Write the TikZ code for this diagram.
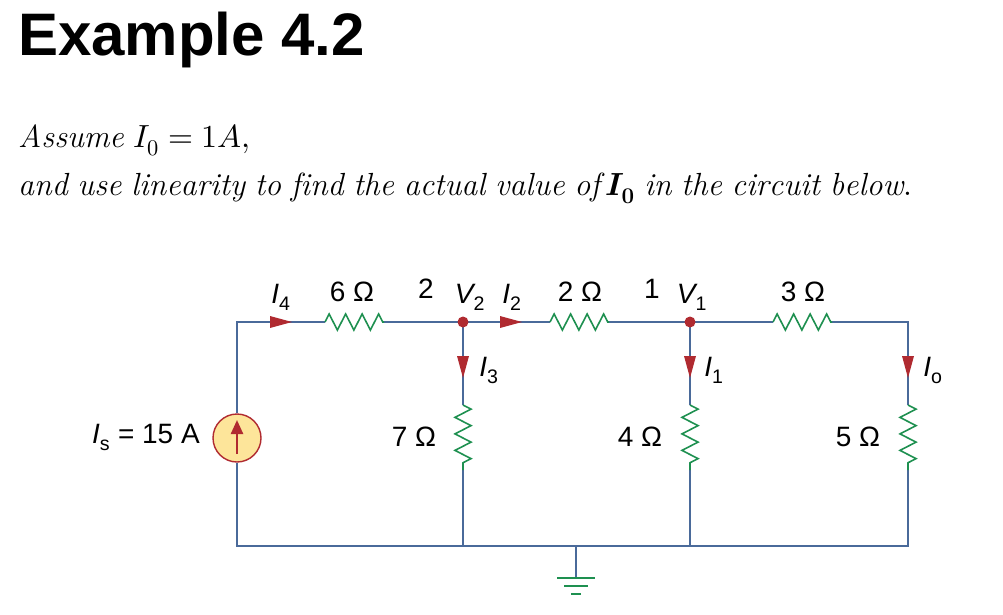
\documentclass[tikz,border=0pt]{standalone}
\usepackage{fontspec}
\usepackage{unicode-math}
\newfontfamily\arial{Liberation Sans}
\usetikzlibrary{decorations.pathmorphing,arrows.meta}
\definecolor{wire}{HTML}{4A6A9A}
\definecolor{res}{HTML}{1E9050}
\definecolor{arr}{HTML}{B02A30}
\definecolor{src}{HTML}{FDE59A}
\begin{document}
\begin{tikzpicture}[x=1pt,y=-1pt,
  wirest/.style={draw=wire,line width=1.6pt},
  resist/.style={draw=res,line width=1.6pt,decorate,decoration={zigzag,segment length=16.5pt,amplitude=8pt}},
  lbl/.style={font=\arial\fontsize{28}{28}\selectfont,inner sep=0pt},
  dot/.style={circle,fill=arr,inner sep=0pt,minimum size=11pt}]
\useasboundingbox (0,0) rectangle (1003,614);
% title and text
\node[anchor=west,inner sep=0pt,font=\arial\bfseries\fontsize{60}{60}\selectfont] (title) at (18,40) {Example 4.2};
\node[anchor=west,inner sep=0pt,font=\fontsize{32}{32}\selectfont] (l1) at (18,140) {$\mathit{Assume}\ I_0 = 1A,$};
\node[anchor=west,inner sep=0pt,font=\fontsize{32}{32}\selectfont] (l2) at (18,188) {$\mathit{and\ use\ linearity\ to\ find\ the\ actual\ value\ of}\,\symbfit{I}_{\mathbf{0}}\ \mathit{in\ the\ circuit\ below.}$};
% coordinates
\coordinate (tl) at (237,322); \coordinate (bl) at (237,546);
\coordinate (tr) at (908,322); \coordinate (br) at (908,546);
\coordinate (n2) at (463,322); \coordinate (n1) at (690,322);
\coordinate (b2) at (463,546); \coordinate (b1) at (690,546);
\coordinate (gnd) at (576,546); \coordinate (g0) at (576,578);
\coordinate (r6a) at (325,322); \coordinate (r6b) at (384,322);
\coordinate (r2a) at (550,322); \coordinate (r2b) at (609,322);
\coordinate (r3a) at (773,322); \coordinate (r3b) at (832,322);
\coordinate (r7a) at (463,405); \coordinate (r7b) at (463,470);
\coordinate (r4a) at (690,405); \coordinate (r4b) at (690,470);
\coordinate (r5a) at (908,405); \coordinate (r5b) at (908,470);
\node[circle,draw=arr,fill=src,line width=1.4pt,minimum size=48pt,inner sep=0pt] (S) at (237,438) {};
% wires
\draw[wirest] (S.north) -- (tl) -- (r6a) (r6b) -- (n2) -- (r2a) (r2b) -- (n1) -- (r3a) (r3b) -- (tr) -- (r5a)
  (r5b) -- (br) -- (bl) -- (S.south)
  (n2) -- (r7a) (r7b) -- (b2) (n1) -- (r4a) (r4b) -- (b1) (gnd) -- (g0);
\draw[resist] (r6a) -- (r6b); \draw[resist] (r2a) -- (r2b); \draw[resist] (r3a) -- (r3b);
\draw[resist] (r7a) -- (r7b); \draw[resist] (r4a) -- (r4b); \draw[resist] (r5a) -- (r5b);
% ground
\draw[draw=res,line width=1.6pt] (557,578) -- (595,578) (564,586) -- (588,586) (571,594) -- (581,594);
% source arrow
\draw[arr,line width=2.4pt,-{Triangle[length=14pt,width=12pt]}] (237,454) -- (237,420);
% dots
\node[dot] (d2) at (n2) {}; \node[dot] (d1) at (n1) {};
% current arrows
\fill[arr] (270,316) -- (292,322) -- (270,328) -- cycle;
\fill[arr] (500,316) -- (522,322) -- (500,328) -- cycle;
\foreach \x in {463,690,908} \fill[arr] (\x-6,356) -- (\x,378) -- (\x+6,356) -- cycle;
% labels
\node[lbl] (L4) at (281,297) {\itshape I\textsubscript{\upshape 4}};
\node[lbl] (L6) at (352,292) {6 Ω};
\node[lbl] (Lnum2) at (426,289) {2};
\node[lbl] (LV2) at (470,297) {\itshape V\textsubscript{\upshape 2}};
\node[lbl] (LI2) at (512,297) {\itshape I\textsubscript{\upshape 2}};
\node[lbl] (L2) at (580,292) {2 Ω};
\node[lbl] (Lnum1) at (652,289) {1};
\node[lbl] (LV1) at (692,297) {\itshape V\textsubscript{\upshape 1}};
\node[lbl] (L3) at (803,292) {3 Ω};
\node[lbl] (LI3) at (489,370) {\itshape I\textsubscript{\upshape 3}};
\node[lbl] (LI1) at (714,370) {\itshape I\textsubscript{\upshape 1}};
\node[lbl] (LIo) at (933,370) {\itshape I\textsubscript{\upshape o}};
\node[lbl] (L7) at (414,437) {7 Ω};
\node[lbl] (L4o) at (640,437) {4 Ω};
\node[lbl] (L5) at (858,437) {5 Ω};
\node[lbl,anchor=east] (LS) at (200,437) {\itshape I\textsubscript{\upshape s}\upshape\ = 15 A};
\end{tikzpicture}
\end{document}
